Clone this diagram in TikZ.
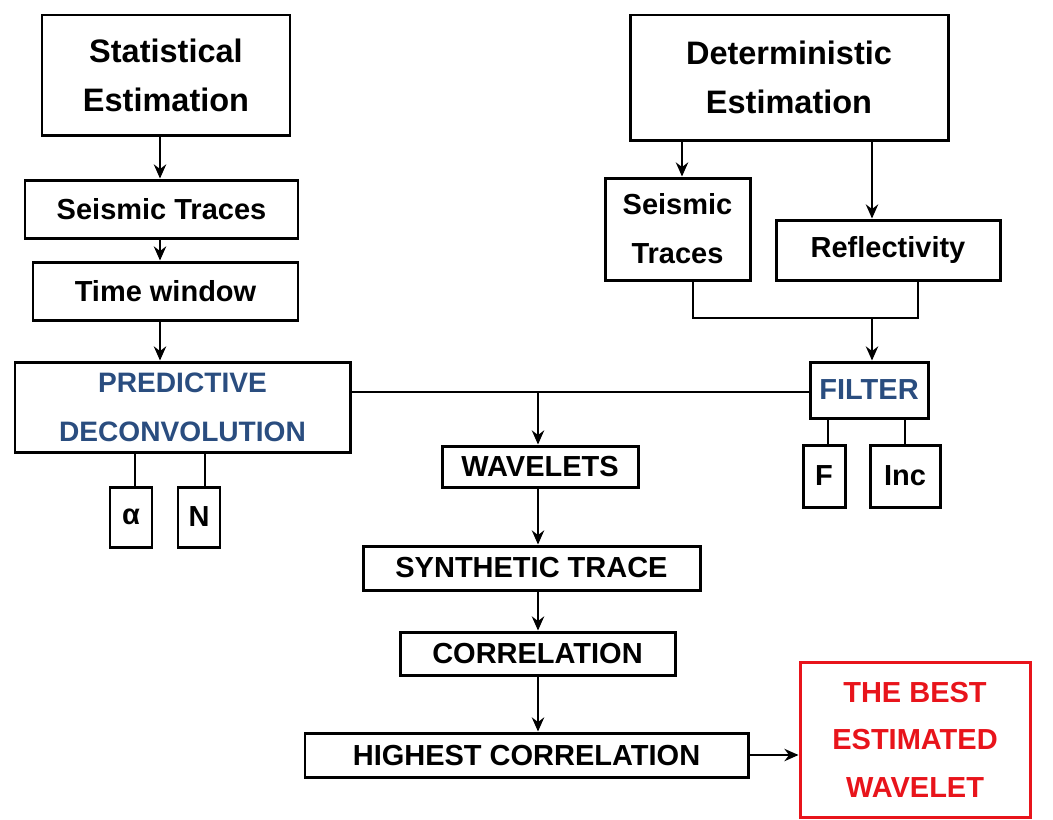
\documentclass[tikz,border=0pt]{standalone}
\usepackage{fontspec}
\setmainfont{Liberation Sans}
\usetikzlibrary{arrows.meta}
\definecolor{dblue}{HTML}{2A4D7F}
\definecolor{bred}{HTML}{E8141B}
\begin{document}
\begin{tikzpicture}[x=0.02cm,y=-0.02cm,
 box/.style={draw,line width=1.7pt,inner sep=0pt,align=center,font=\bfseries\fontsize{16.5}{22}\selectfont},
 big/.style={box,font=\bfseries\fontsize{18.5}{28}\selectfont},
 ln/.style={line width=1.5pt},
 arr/.style={ln,-{Stealth[length=8pt,width=7pt]}}]
\useasboundingbox (0,0) rectangle (1053,819);
\node[big,minimum width=248*0.02cm,minimum height=120*0.02cm] (stat) at (166,75) {Statistical\\Estimation};
\node[box,minimum width=273*0.02cm,minimum height=58*0.02cm] (seisl) at (161.5,209) {Seismic Traces};
\node[box,minimum width=265*0.02cm,minimum height=58*0.02cm] (time) at (165.5,291) {Time window};
\node[box,text=dblue,font=\bfseries\fontsize{16}{28}\selectfont,minimum width=335*0.02cm,minimum height=90*0.02cm] (pred) at (182.5,407) {PREDICTIVE\\DECONVOLUTION};
\node[box,minimum width=42*0.02cm,minimum height=60*0.02cm] (alpha) at (131,517) {α};
\node[box,minimum width=42*0.02cm,minimum height=60*0.02cm] (n) at (199,517) {N};
\node[big,minimum width=318*0.02cm,minimum height=125*0.02cm] (det) at (789,77.5) {Deterministic\\Estimation};
\node[box,minimum width=145*0.02cm,minimum height=102*0.02cm,font=\bfseries\fontsize{16.5}{28}\selectfont] (seisr) at (677.5,229) {Seismic\\Traces};
\node[box,minimum width=224*0.02cm,minimum height=60*0.02cm] (refl) at (888,250) {Reflectivity};
\node[box,text=dblue,minimum width=118*0.02cm,minimum height=56*0.02cm] (filter) at (869,390) {FILTER};
\node[box,minimum width=42*0.02cm,minimum height=62*0.02cm] (f) at (824,476) {F};
\node[box,minimum width=70*0.02cm,minimum height=62*0.02cm] (inc) at (905,476) {Inc};
\node[box,minimum width=196*0.02cm,minimum height=41*0.02cm] (wave) at (540,466.5) {WAVELETS};
\node[box,minimum width=337*0.02cm,minimum height=44*0.02cm] (syn) at (531.5,568) {SYNTHETIC TRACE};
\node[box,minimum width=275*0.02cm,minimum height=43*0.02cm] (corr) at (537.5,653.5) {CORRELATION};
\node[box,minimum width=443*0.02cm,minimum height=44*0.02cm] (high) at (526.5,755) {HIGHEST CORRELATION};
\node[box,draw=bred,text=bred,font=\bfseries\fontsize{16.5}{27}\selectfont,minimum width=230*0.02cm,minimum height=155*0.02cm] (best) at (915,739.5) {THE BEST\\ESTIMATED\\WAVELET};
% coordinates
\coordinate (xa) at (160,0);
\coordinate (xw) at (538,0);
\coordinate (j) at (538,392);
\coordinate (xsr) at (682,0);
\coordinate (xrf) at (872,0);
\coordinate (b1) at (693,318);
\coordinate (b2) at (918,318);
\coordinate (b3) at (872,318);
\coordinate (xf) at (828,0);
\coordinate (xi) at (905,0);
\coordinate (xal) at (135,0);
\coordinate (xn) at (205,0);
\draw[arr] (stat.south -| xa) -- (seisl.north -| xa);
\draw[arr] (seisl.south -| xa) -- (time.north -| xa);
\draw[arr] (time.south -| xa) -- (pred.north -| xa);
\draw[ln] (pred.east |- j) -- (filter.west |- j);
\draw[arr] (j) -- (wave.north -| xw);
\draw[ln] (pred.south -| xal) -- (alpha.north -| xal);
\draw[ln] (pred.south -| xn) -- (n.north -| xn);
\draw[arr] (det.south -| xsr) -- (seisr.north -| xsr);
\draw[arr] (det.south -| xrf) -- (refl.north -| xrf);
\draw[ln] (b1 |- seisr.south) -- (b1) -- (b2) -- (b2 |- refl.south);
\draw[arr] (b3) -- (filter.north -| b3);
\draw[ln] (filter.south -| xf) -- (f.north -| xf);
\draw[ln] (filter.south -| xi) -- (inc.north -| xi);
\draw[arr] (wave.south -| xw) -- (syn.north -| xw);
\draw[arr] (syn.south -| xw) -- (corr.north -| xw);
\draw[arr] (corr.south -| xw) -- (high.north -| xw);
\draw[arr] (high.east) -- (best.west |- high.east);
\end{tikzpicture}
\end{document}
